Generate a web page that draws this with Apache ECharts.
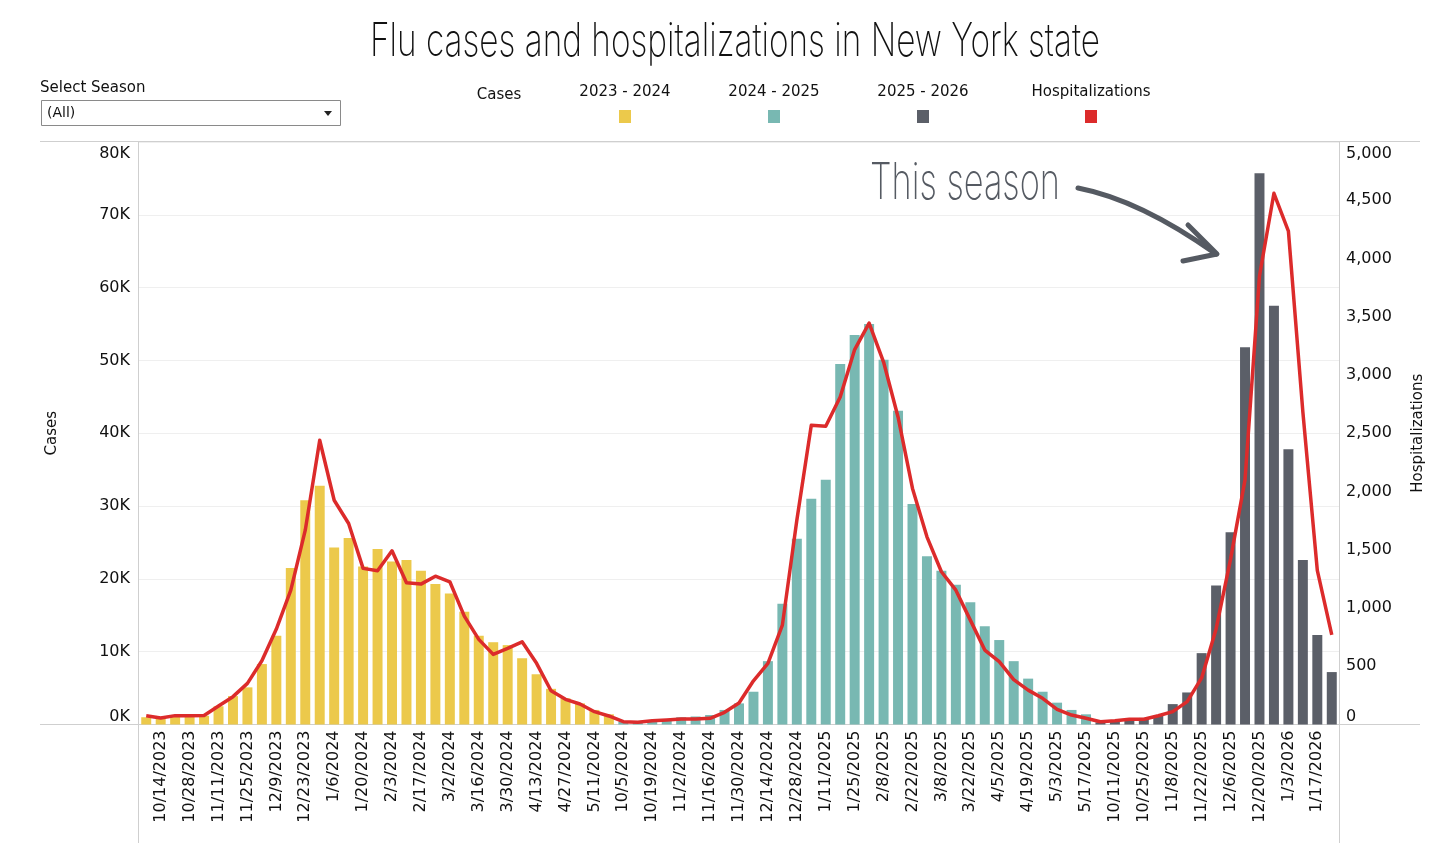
<!DOCTYPE html>
<html>
<head>
<meta charset="utf-8">
<script src="https://cdn.jsdelivr.net/npm/echarts@6.0.0/dist/echarts.min.js"></script>
<style>
html,body{margin:0;padding:0;background:#fff;}
#chart{width:1456px;height:843px;}
</style>
</head>
<body>
<div id="chart"></div>
<script>
// ---- Data ----
const weeks2324 = ['10/7/2023','10/14/2023','10/21/2023','10/28/2023','11/4/2023','11/11/2023','11/18/2023','11/25/2023','12/2/2023','12/9/2023','12/16/2023','12/23/2023','12/30/2023','1/6/2024','1/13/2024','1/20/2024','1/27/2024','2/3/2024','2/10/2024','2/17/2024','2/24/2024','3/2/2024','3/9/2024','3/16/2024','3/23/2024','3/30/2024','4/6/2024','4/13/2024','4/20/2024','4/27/2024','5/4/2024','5/11/2024','5/18/2024'];
const weeks2425 = ['10/5/2024','10/12/2024','10/19/2024','10/26/2024','11/2/2024','11/9/2024','11/16/2024','11/23/2024','11/30/2024','12/7/2024','12/14/2024','12/21/2024','12/28/2024','1/4/2025','1/11/2025','1/18/2025','1/25/2025','2/1/2025','2/8/2025','2/15/2025','2/22/2025','3/1/2025','3/8/2025','3/15/2025','3/22/2025','3/29/2025','4/5/2025','4/12/2025','4/19/2025','4/26/2025','5/3/2025','5/10/2025','5/17/2025'];
const weeks2526 = ['10/4/2025','10/11/2025','10/18/2025','10/25/2025','11/1/2025','11/8/2025','11/15/2025','11/22/2025','11/29/2025','12/6/2025','12/13/2025','12/20/2025','12/27/2025','1/3/2026','1/10/2026','1/17/2026','1/24/2026'];

const cases2324 = [1000,800,1100,1100,1200,2500,3900,5100,8300,12200,21500,30800,32800,24300,25600,21700,24100,22400,22600,21100,19300,18000,15500,12200,11300,10900,9100,6900,4900,3600,2900,2000,1400];
const cases2425 = [400,300,500,600,1000,1100,1300,2000,2900,4500,8700,16600,25500,31000,33600,49500,53500,55000,50100,43100,30300,23100,21100,19200,16800,13500,11600,8700,6300,4500,3000,2000,1400];
const cases2526 = [300,500,800,900,1200,2800,4400,9800,19100,26400,51800,75700,57500,37800,22600,12300,7200];

const hosp2324 = [75,55,76,76,78,159,239,353,547,819,1153,1668,2440,1925,1725,1340,1319,1491,1216,1205,1273,1225,930,731,602,653,710,525,290,216,176,110,73];
const hosp2425 = [24,19,33,39,47,47,53,105,185,375,525,853,1754,2569,2560,2811,3218,3446,3111,2640,2026,1611,1311,1153,896,639,540,385,295,225,130,81,53];
const hosp2526 = [24,33,45,45,75,110,196,400,820,1420,2100,3850,4560,4236,2683,1323,770];

const seasonNames = ['2023 - 2024','2024 - 2025','2025 - 2026'];
const leftTicks = [0,10000,20000,30000,40000,50000,60000,70000,80000];
const rightTicks = [0,500,1000,1500,2000,2500,3000,3500,4000,4500,5000];

// ---- Build ----
const categories = weeks2324.concat(weeks2425, weeks2526);
const hospitalizations = hosp2324.concat(hosp2425, hosp2526);
const n1 = weeks2324.length, n2 = weeks2425.length;
function seasonSeries(vals, start) {
  return categories.map((c, i) => (i >= start && i < start + vals.length) ? vals[i - start] : '-');
}
const s1 = seasonSeries(cases2324, 0);
const s2 = seasonSeries(cases2425, n1);
const s3 = seasonSeries(cases2526, n1 + n2);

const colors = { y: '#ECC94B', t: '#78B8B2', g: '#5B5F68', r: '#DC2B2B' };
const baseFont = "'DejaVu Sans', Verdana, sans-serif";

function measure(text, font) {
  const c = document.createElement('canvas').getContext('2d');
  c.font = font;
  return c.measureText(text).width;
}
const titleText = 'Flu cases and hospitalizations in New York state';
const titleFontSize = 46;
const titleW = measure(titleText, `200 ${titleFontSize}px Inter`);
const titleScale = 730 / titleW;
const annText = 'This season';
const annFontSize = 50;
const annW = measure(annText, `200 ${annFontSize}px Inter`);
const annScale = 190 / annW;

const gridL = 139, gridR = 1339, gridT = 142, gridB = 724.5;
const frameColor = '#cfcfcf';

const chart = echarts.init(document.getElementById('chart'), null, { renderer: 'canvas' });

const legendItems = [
  { name: seasonNames[0], x: 625, color: colors.y },
  { name: seasonNames[1], x: 774, color: colors.t },
  { name: seasonNames[2], x: 923, color: colors.g },
  { name: 'Hospitalizations', x: 1091, color: colors.r }
];
const graphics = [];
// Title
graphics.push({
  type: 'text', x: 735, y: 42, scaleX: titleScale, originX: 0, originY: 0,
  style: { text: titleText, font: `200 ${titleFontSize}px Inter`, fill: '#111', align: 'center', verticalAlign: 'middle' }
});
// Select season control
graphics.push({ type: 'text', x: 40, y: 88, style: { text: 'Select Season', font: `15px ${baseFont}`, fill: '#111', verticalAlign: 'middle' } });
graphics.push({ type: 'rect', shape: { x: 41.5, y: 100.5, width: 299, height: 25 }, style: { fill: '#fff', stroke: '#8a8a8a', lineWidth: 1 } });
graphics.push({ type: 'text', x: 47, y: 113, style: { text: '(All)', font: `14px ${baseFont}`, fill: '#111', verticalAlign: 'middle' } });
graphics.push({ type: 'polygon', shape: { points: [[324, 111], [332, 111], [328, 116]] }, style: { fill: '#222' } });
// Legend
graphics.push({ type: 'text', x: 499, y: 95, style: { text: 'Cases', font: `15px ${baseFont}`, fill: '#111', align: 'center', verticalAlign: 'middle' } });
legendItems.forEach(it => {
  graphics.push({ type: 'text', x: it.x, y: 92, style: { text: it.name, font: `15px ${baseFont}`, fill: '#111', align: 'center', verticalAlign: 'middle' } });
  graphics.push({ type: 'rect', shape: { x: it.x - 6, y: 110, width: 12, height: 13 }, style: { fill: it.color } });
});
// Frame lines
graphics.push({ type: 'line', shape: { x1: 40, y1: 141.5, x2: 1420, y2: 141.5 }, style: { stroke: frameColor, lineWidth: 1 }, z: 0 });
graphics.push({ type: 'line', shape: { x1: 40, y1: gridB, x2: gridL, y2: gridB }, style: { stroke: frameColor, lineWidth: 1 } });
graphics.push({ type: 'line', shape: { x1: gridR, y1: gridB, x2: 1420, y2: gridB }, style: { stroke: frameColor, lineWidth: 1 } });
graphics.push({ type: 'line', shape: { x1: gridL - 0.5, y1: 141, x2: gridL - 0.5, y2: 843 }, style: { stroke: frameColor, lineWidth: 1 } });
graphics.push({ type: 'line', shape: { x1: gridR + 0.5, y1: 141, x2: gridR + 0.5, y2: 843 }, style: { stroke: frameColor, lineWidth: 1 } });
// Annotation
graphics.push({
  type: 'text', x: 965, y: 184, scaleX: annScale, originX: 0, originY: 0,
  style: { text: annText, font: `200 ${annFontSize}px Inter`, fill: '#555A62', align: 'center', verticalAlign: 'middle' }, z: 10
});
graphics.push({ type: 'bezierCurve', shape: { x1: 1078, y1: 188, cpx1: 1140, cpy1: 200, x2: 1216, y2: 254 }, style: { stroke: '#555A62', lineWidth: 5, lineCap: 'round', fill: null }, z: 10 });
graphics.push({ type: 'polyline', shape: { points: [[1188, 225], [1217, 254], [1183, 261]] }, style: { stroke: '#555A62', lineWidth: 5, lineCap: 'round', lineJoin: 'round', fill: null }, z: 10 });

const option = {
  animation: false,
  backgroundColor: '#fff',
  grid: { left: gridL, right: 1456 - gridR, top: gridT, bottom: 843 - gridB, containLabel: false },
  xAxis: {
    type: 'category',
    data: categories,
    axisLine: { show: true, lineStyle: { color: frameColor, width: 1 } },
    axisTick: { show: false },
    axisLabel: {
      interval: (i) => i % 2 === 1,
      rotate: 90,
      margin: 6,
      color: '#111',
      fontSize: 16,
      fontFamily: baseFont
    },
    splitLine: { show: false }
  },
  yAxis: [
    {
      type: 'value', min: leftTicks[0], max: leftTicks[leftTicks.length - 1], interval: leftTicks[1] - leftTicks[0],
      name: 'Cases', nameLocation: 'middle', nameRotate: 90, nameGap: 79,
      nameTextStyle: { color: '#111', fontSize: 15, fontFamily: baseFont },
      axisLine: { show: false }, axisTick: { show: false },
      axisLabel: {
        margin: 9, color: '#111', fontSize: 16, fontFamily: baseFont,
        formatter: (v) => v === 80000 ? '{t|80K}' : v === 0 ? '{b|0K}' : (v / 1000) + 'K',
        rich: { t: { padding: [24, 0, 0, 0], fontSize: 16, fontFamily: baseFont, color: '#111' }, b: { padding: [0, 0, 16, 0], fontSize: 16, fontFamily: baseFont, color: '#111' } }
      },
      splitLine: { show: true, lineStyle: { color: '#efefef', width: 1 } }
    },
    {
      type: 'value', min: rightTicks[0], max: rightTicks[rightTicks.length - 1], interval: rightTicks[1] - rightTicks[0],
      position: 'right',
      name: 'Hospitalizations', nameLocation: 'middle', nameRotate: 90, nameGap: 72,
      nameTextStyle: { color: '#111', fontSize: 15, fontFamily: baseFont },
      axisLine: { show: false }, axisTick: { show: false },
      axisLabel: {
        margin: 7, color: '#111', fontSize: 16, fontFamily: baseFont,
        formatter: (v) => {
          const s = v.toLocaleString('en-US');
          return v === 5000 ? '{t|' + s + '}' : v === 0 ? '{b|' + s + '}' : s;
        },
        rich: { t: { padding: [24, 0, 0, 0], fontSize: 16, fontFamily: baseFont, color: '#111' }, b: { padding: [0, 0, 16, 0], fontSize: 16, fontFamily: baseFont, color: '#111' } }
      },
      splitLine: { show: false }
    }
  ],
  series: [
    { name: seasonNames[0], type: 'bar', stack: 'cases', data: s1, itemStyle: { color: colors.y }, barCategoryGap: '31%', yAxisIndex: 0 },
    { name: seasonNames[1], type: 'bar', stack: 'cases', data: s2, itemStyle: { color: colors.t }, barCategoryGap: '31%', yAxisIndex: 0 },
    { name: seasonNames[2], type: 'bar', stack: 'cases', data: s3, itemStyle: { color: colors.g }, barCategoryGap: '31%', yAxisIndex: 0 },
    { name: 'Hospitalizations', type: 'line', data: hospitalizations, yAxisIndex: 1, showSymbol: false, symbol: 'none',
      lineStyle: { color: colors.r, width: 3.5, join: 'round' }, itemStyle: { color: colors.r }, z: 5 }
  ],
  graphic: graphics
};
chart.setOption(option);
</script>
</body>
</html>
